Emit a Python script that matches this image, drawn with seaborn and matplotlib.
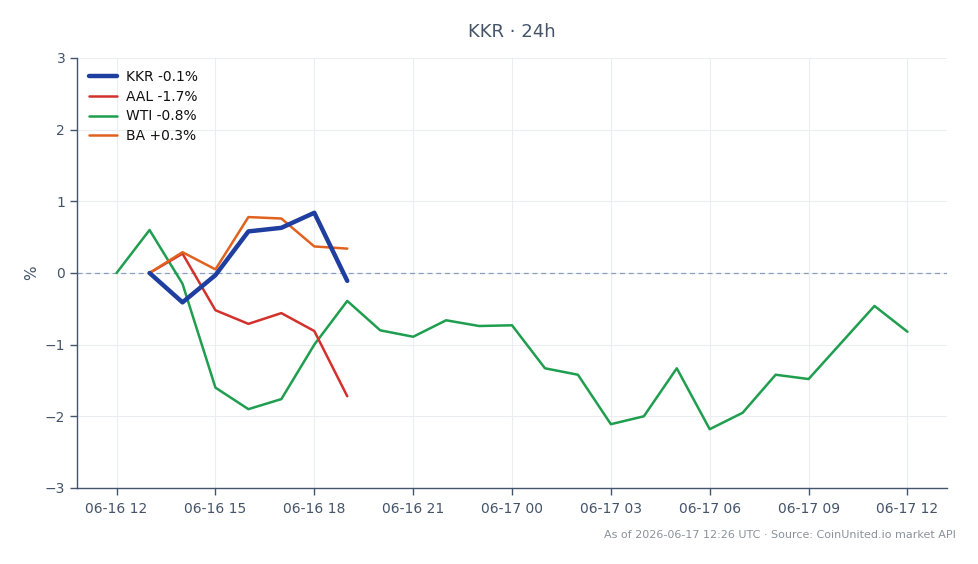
import numpy as np
import pandas as pd
import matplotlib
matplotlib.use("Agg")
import matplotlib.pyplot as plt
import matplotlib.dates as mdates
import seaborn as sns

# Data (percent change)
kkr_times = ["2026-06-16 13:00", "2026-06-16 14:00", "2026-06-16 15:00", "2026-06-16 16:00",
             "2026-06-16 17:00", "2026-06-16 18:00", "2026-06-16 19:00"]
kkr_vals = [0.0, -0.41, -0.03, 0.58, 0.63, 0.84, -0.11]
aal_vals = [0.0, 0.27, -0.52, -0.71, -0.56, -0.81, -1.72]
ba_vals = [0.0, 0.29, 0.05, 0.78, 0.76, 0.37, 0.34]

wti_times = ["2026-06-16 12:00", "2026-06-16 13:00", "2026-06-16 14:00", "2026-06-16 15:00",
             "2026-06-16 16:00", "2026-06-16 17:00", "2026-06-16 18:00", "2026-06-16 19:00",
             "2026-06-16 20:00", "2026-06-16 21:00", "2026-06-16 22:00", "2026-06-16 23:00",
             "2026-06-17 00:00", "2026-06-17 01:00", "2026-06-17 02:00", "2026-06-17 03:00",
             "2026-06-17 04:00", "2026-06-17 05:00", "2026-06-17 06:00", "2026-06-17 07:00",
             "2026-06-17 08:00", "2026-06-17 09:00", "2026-06-17 11:00", "2026-06-17 12:00"]
wti_vals = [0.0, 0.60, -0.15, -1.60, -1.90, -1.76, -1.00, -0.39, -0.80, -0.89, -0.66, -0.74,
            -0.73, -1.33, -1.42, -2.11, -2.00, -1.33, -2.18, -1.95, -1.42, -1.48, -0.46, -0.82]

labels = ["KKR -0.1%", "AAL -1.7%", "WTI -0.8%", "BA +0.3%"]
colors = ["#1f3fa0", "#d3312c", "#1e9e4e", "#e0621e"]

sns.set_theme(style="white")
plt.rcParams['font.family'] = ['DejaVu Sans']

fig = plt.figure(figsize=(9.79, 5.64), dpi=100)
ax = fig.add_axes([0.0787, 0.1348, 0.9673 - 0.0787, 0.8972 - 0.1348])

kt = pd.to_datetime(kkr_times)
wt = pd.to_datetime(wti_times)

sns.lineplot(x=kt, y=kkr_vals, ax=ax, color=colors[0], linewidth=3.2, label=labels[0], zorder=5)
sns.lineplot(x=kt, y=aal_vals, ax=ax, color=colors[1], linewidth=1.8, label=labels[1], zorder=4)
sns.lineplot(x=wt, y=wti_vals, ax=ax, color=colors[2], linewidth=1.8, label=labels[2], zorder=3)
sns.lineplot(x=kt, y=ba_vals, ax=ax, color=colors[3], linewidth=1.8, label=labels[3], zorder=4)

ax.axhline(0, color="#8a9fc0", linestyle=(0, (4, 3)), linewidth=0.9, zorder=1)

ax.set_ylim(-3, 3)
ax.set_yticks([-3, -2, -1, 0, 1, 2, 3])
ax.set_yticklabels(["\u22123", "\u22122", "\u22121", "0", "1", "2", "3"])
ax.xaxis.set_major_locator(mdates.HourLocator(byhour=[0, 3, 6, 9, 12, 15, 18, 21]))
ax.xaxis.set_major_formatter(mdates.DateFormatter("%m-%d %H"))
ax.margins(x=0.05)

ax.grid(True, color="#ebedf0", linewidth=0.8)
ax.set_axisbelow(True)
for s in ["top", "right"]:
    ax.spines[s].set_visible(False)
for s in ["left", "bottom"]:
    ax.spines[s].set_color("#44546a")
    ax.spines[s].set_linewidth(1.0)
ax.tick_params(axis="both", colors="#44546a", labelcolor="#44546a", labelsize=10,
               length=5, width=1, direction="out", bottom=True, left=True)
ax.tick_params(axis="x", pad=5)
ax.set_ylabel("%", color="#44546a", fontsize=11)
ax.set_xlabel("")

fig.text(0.523, 0.943, "KKR \u00b7 24h", ha="center", va="center", fontsize=13, color="#44546a")
fig.text(0.976, 0.052, "As of 2026-06-17 12:26 UTC \u00b7 Source: CoinUnited.io market API",
         ha="right", va="center", fontsize=8, color="#8a929c")

leg = ax.legend(loc="upper left", frameon=False, fontsize=10, handlelength=2.0,
                handletextpad=0.7, labelspacing=0.42, borderaxespad=0.45, labelcolor="#111111")

fig.savefig("out.png", dpi=100)
